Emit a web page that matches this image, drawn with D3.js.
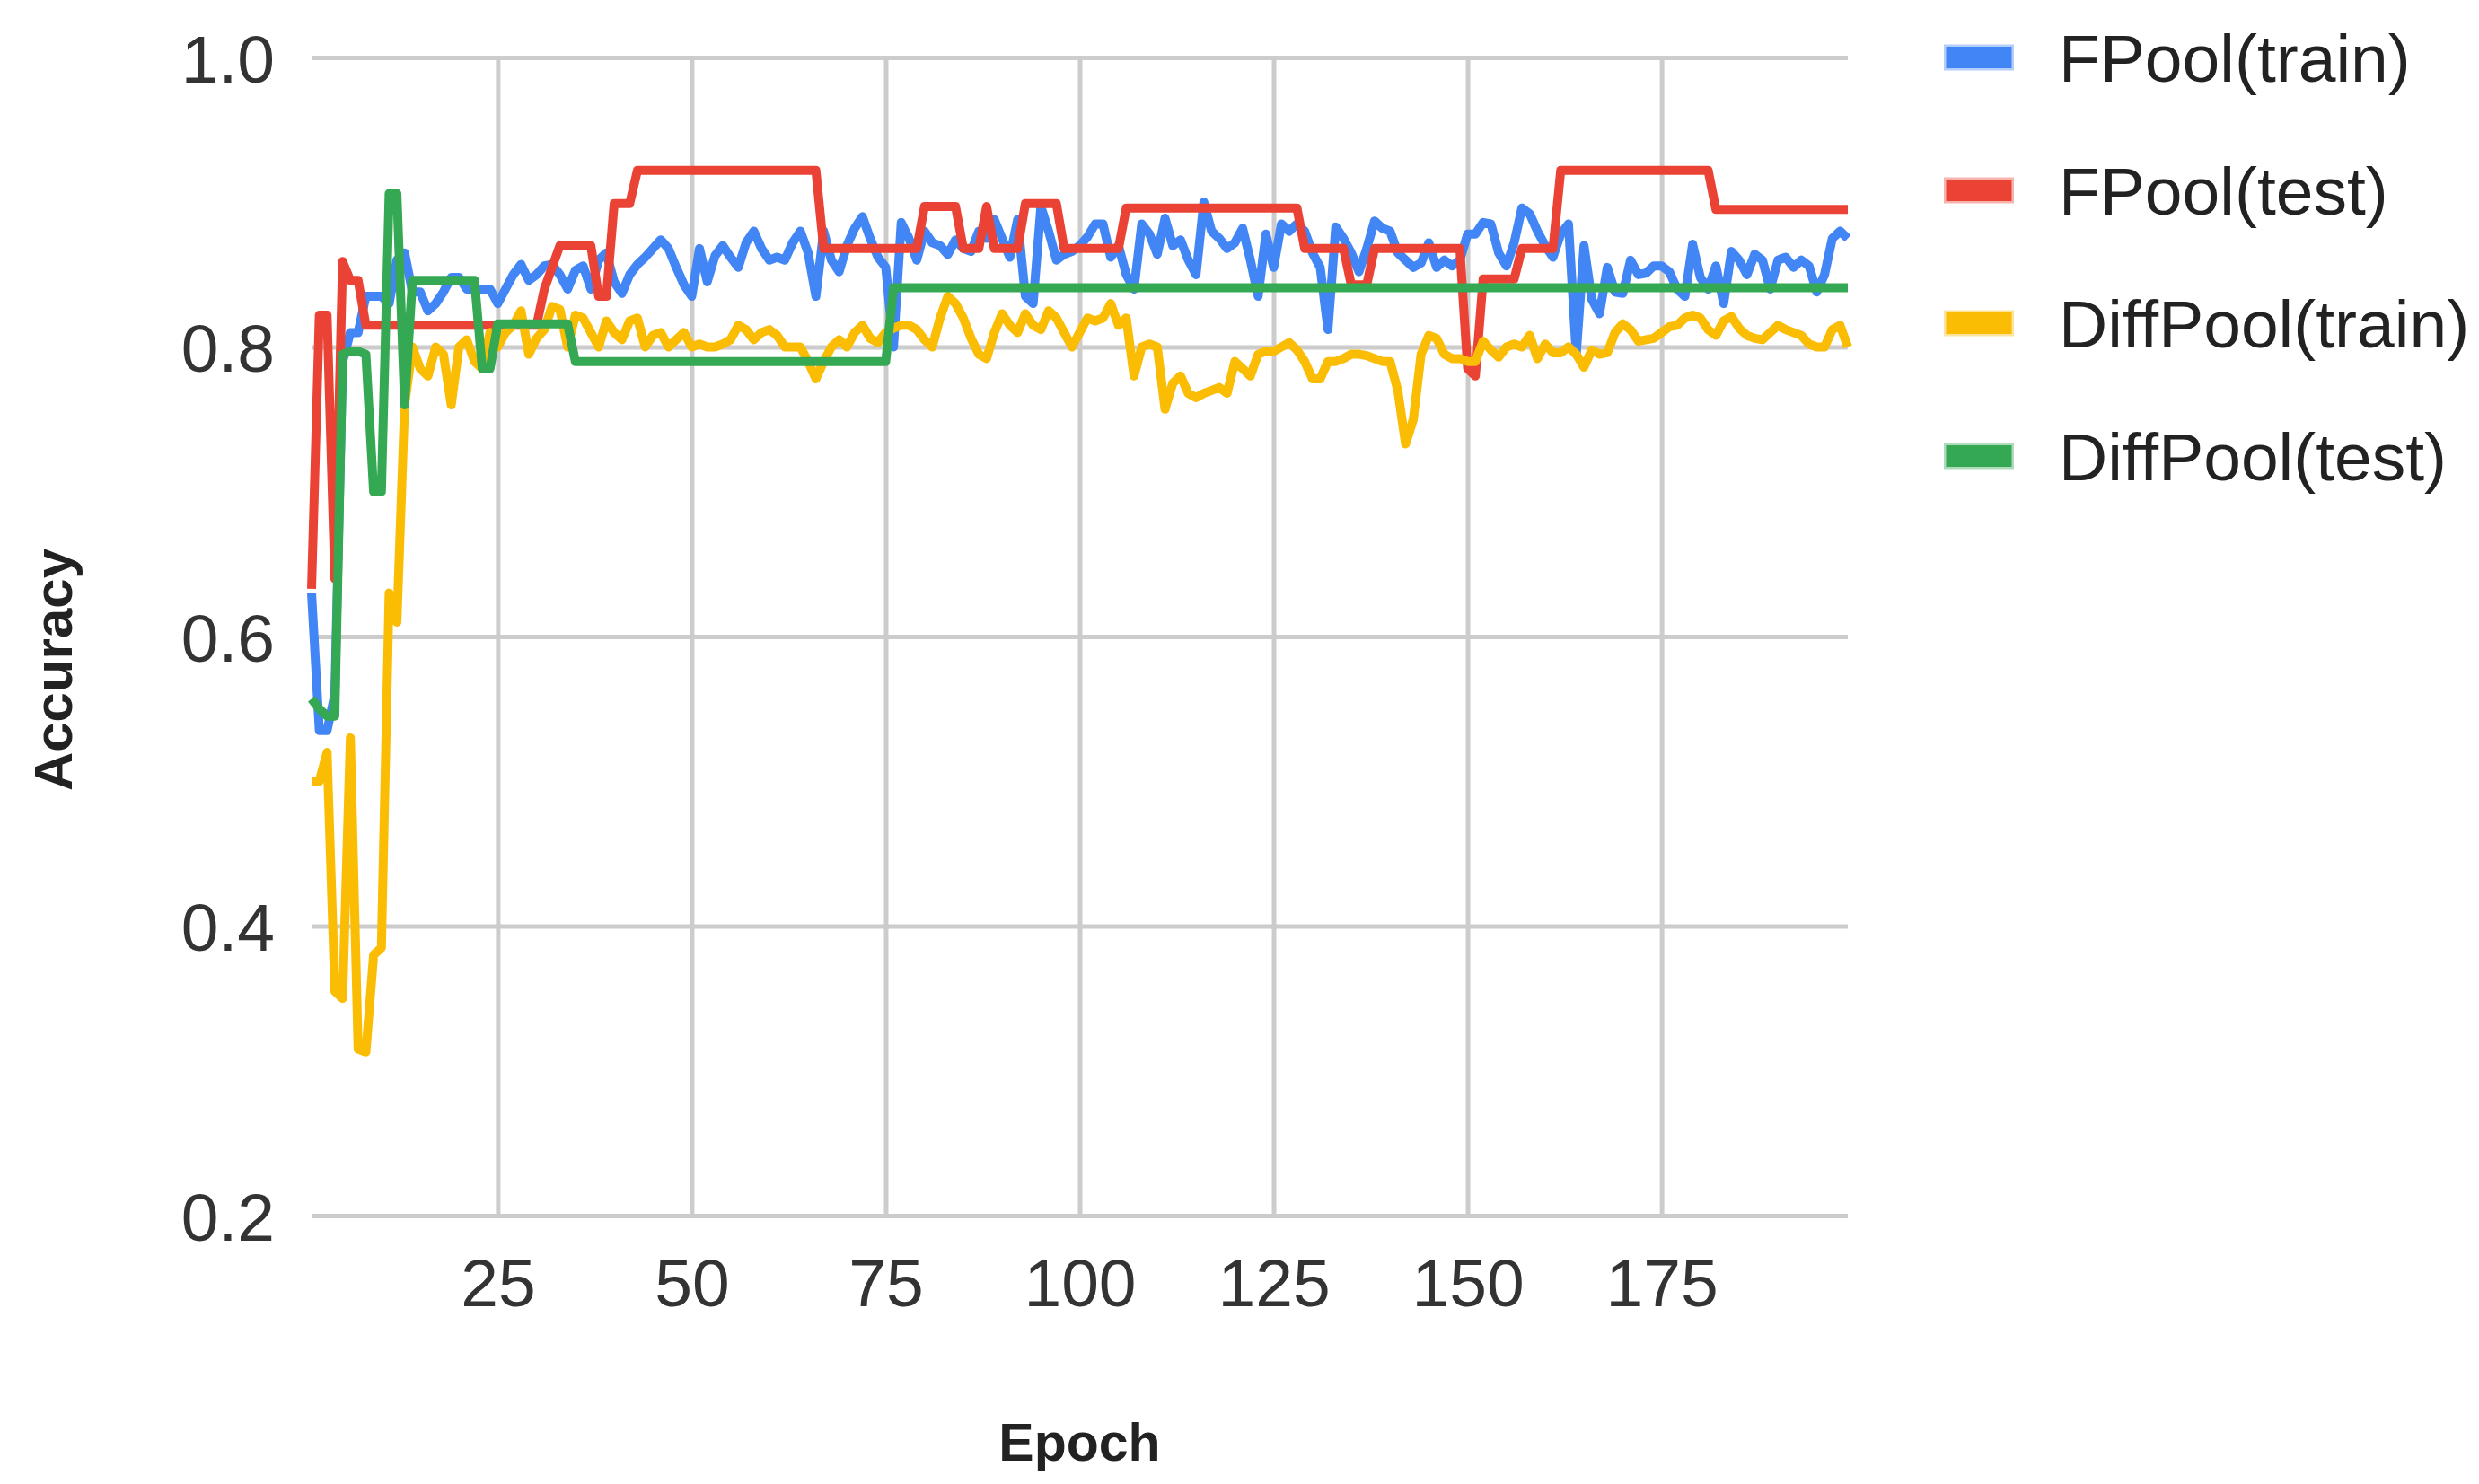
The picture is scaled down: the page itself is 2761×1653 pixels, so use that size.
<!DOCTYPE html>
<html>
<head>
<meta charset="utf-8">
<script src="https://cdn.jsdelivr.net/npm/d3@7"></script>
<style>
  body { margin: 0; background: #fff; }
  svg { display: block; font-family: "Liberation Sans", Arial, sans-serif; }
</style>
</head>
<body>
<svg width="2761" height="1653"></svg>
<script>
// series values, one per epoch (1..199)
const fpoolTrain = [
  0.63, 0.535, 0.535, 0.56, 0.79, 0.81, 0.81, 0.835, 0.835, 0.835,
  0.83, 0.86, 0.865, 0.838, 0.838, 0.825, 0.83, 0.838, 0.848, 0.848,
  0.84, 0.84, 0.84, 0.84, 0.83, 0.84, 0.85, 0.857, 0.846, 0.85,
  0.856, 0.857, 0.85, 0.84, 0.853, 0.856, 0.84, 0.86, 0.865, 0.845,
  0.837, 0.85, 0.857, 0.862, 0.868, 0.874, 0.868, 0.855, 0.843, 0.835,
  0.868, 0.845, 0.863, 0.87, 0.862, 0.855, 0.872, 0.88, 0.868, 0.86,
  0.862, 0.86, 0.872, 0.88, 0.865, 0.835, 0.88, 0.86, 0.852, 0.87,
  0.882, 0.89, 0.875, 0.862, 0.855, 0.80, 0.886, 0.875, 0.86, 0.88,
  0.872, 0.87, 0.864, 0.874, 0.868, 0.866, 0.88, 0.875, 0.888, 0.875,
  0.862, 0.888, 0.835, 0.83, 0.897, 0.88, 0.86, 0.864, 0.866, 0.87,
  0.876, 0.885, 0.885, 0.862, 0.87, 0.85, 0.84, 0.885, 0.878, 0.864,
  0.889, 0.87, 0.874, 0.86, 0.85, 0.90, 0.88, 0.875, 0.868, 0.872,
  0.882, 0.86, 0.835, 0.878, 0.855, 0.885, 0.88, 0.885, 0.88, 0.865,
  0.855, 0.812, 0.883, 0.875, 0.865, 0.852, 0.868, 0.887, 0.882, 0.88,
  0.865, 0.86, 0.855, 0.858, 0.872, 0.855, 0.86, 0.856, 0.86, 0.878,
  0.878, 0.886, 0.885, 0.865, 0.856, 0.872, 0.896, 0.892, 0.88, 0.87,
  0.862, 0.878, 0.885, 0.795, 0.87, 0.833, 0.823, 0.855, 0.838, 0.837,
  0.86, 0.85, 0.851, 0.856, 0.856, 0.852, 0.84, 0.835, 0.871, 0.848,
  0.84, 0.856, 0.83, 0.866, 0.86, 0.85, 0.864, 0.86, 0.84, 0.86,
  0.862, 0.855, 0.86, 0.856, 0.838, 0.85, 0.875, 0.88, 0.875
];

const fpoolTest = [
  0.633, 0.822, 0.822, 0.64, 0.859, 0.846, 0.846, 0.815, 0.815, 0.815,
  0.815, 0.815, 0.815, 0.815, 0.815, 0.815, 0.815, 0.815, 0.815, 0.815,
  0.815, 0.815, 0.815, 0.815, 0.815, 0.815, 0.815, 0.815, 0.815, 0.815,
  0.84, 0.855, 0.87, 0.87, 0.87, 0.87, 0.87, 0.835, 0.835, 0.899,
  0.899, 0.899, 0.922, 0.922, 0.922, 0.922, 0.922, 0.922, 0.922, 0.922,
  0.922, 0.922, 0.922, 0.922, 0.922, 0.922, 0.922, 0.922, 0.922, 0.922,
  0.922, 0.922, 0.922, 0.922, 0.922, 0.922, 0.868, 0.868, 0.868, 0.868,
  0.868, 0.868, 0.868, 0.868, 0.868, 0.868, 0.868, 0.868, 0.868, 0.897,
  0.897, 0.897, 0.897, 0.897, 0.868, 0.868, 0.868, 0.897, 0.868, 0.868,
  0.868, 0.868, 0.899, 0.899, 0.899, 0.899, 0.899, 0.868, 0.868, 0.868,
  0.868, 0.868, 0.868, 0.868, 0.868, 0.896, 0.896, 0.896, 0.896, 0.896,
  0.896, 0.896, 0.896, 0.896, 0.896, 0.896, 0.896, 0.896, 0.896, 0.896,
  0.896, 0.896, 0.896, 0.896, 0.896, 0.896, 0.896, 0.896, 0.868, 0.868,
  0.868, 0.868, 0.868, 0.868, 0.843, 0.843, 0.843, 0.868, 0.868, 0.868,
  0.868, 0.868, 0.868, 0.868, 0.868, 0.868, 0.868, 0.868, 0.868, 0.785,
  0.78, 0.847, 0.847, 0.847, 0.847, 0.847, 0.868, 0.868, 0.868, 0.868,
  0.868, 0.922, 0.922, 0.922, 0.922, 0.922, 0.922, 0.922, 0.922, 0.922,
  0.922, 0.922, 0.922, 0.922, 0.922, 0.922, 0.922, 0.922, 0.922, 0.922,
  0.922, 0.895, 0.895, 0.895, 0.895, 0.895, 0.895, 0.895, 0.895, 0.895,
  0.895, 0.895, 0.895, 0.895, 0.895, 0.895, 0.895, 0.895, 0.895
];

const diffpoolTrain = [
  0.50, 0.50, 0.52, 0.355, 0.35, 0.53, 0.315, 0.313, 0.38, 0.385,
  0.63, 0.61, 0.76, 0.80, 0.785, 0.78, 0.80, 0.795, 0.76, 0.80,
  0.805, 0.79, 0.785, 0.81, 0.80, 0.81, 0.815, 0.825, 0.795, 0.806,
  0.812, 0.828, 0.826, 0.80, 0.822, 0.82, 0.81, 0.80, 0.818, 0.81,
  0.805, 0.818, 0.82, 0.80, 0.808, 0.81, 0.80, 0.805, 0.81, 0.80,
  0.802, 0.80, 0.80, 0.802, 0.805, 0.815, 0.812, 0.805, 0.81, 0.812,
  0.808, 0.80, 0.80, 0.80, 0.79, 0.778, 0.79, 0.80, 0.805, 0.80,
  0.81, 0.815, 0.806, 0.803, 0.81, 0.813, 0.815, 0.815, 0.812, 0.805,
  0.80, 0.82, 0.835, 0.83, 0.82, 0.806, 0.795, 0.792, 0.81, 0.823,
  0.815, 0.81, 0.823, 0.815, 0.812, 0.825, 0.82, 0.81, 0.80, 0.81,
  0.82, 0.818, 0.82, 0.83, 0.815, 0.82, 0.78, 0.80, 0.802, 0.80,
  0.757, 0.775, 0.78, 0.768, 0.765, 0.768, 0.77, 0.772, 0.768, 0.79,
  0.785, 0.78, 0.795, 0.797, 0.797, 0.80, 0.803, 0.798, 0.79, 0.778,
  0.778, 0.79, 0.79, 0.792, 0.795, 0.795, 0.794, 0.792, 0.79, 0.79,
  0.77, 0.733, 0.75, 0.795, 0.808, 0.806, 0.795, 0.792, 0.792, 0.79,
  0.79, 0.804, 0.798, 0.793, 0.80, 0.802, 0.80, 0.808, 0.792, 0.802,
  0.796, 0.796, 0.80, 0.795, 0.786, 0.798, 0.795, 0.796, 0.81, 0.816,
  0.812, 0.804, 0.805, 0.806, 0.81, 0.814, 0.815, 0.82, 0.822, 0.82,
  0.812, 0.808, 0.818, 0.821, 0.813, 0.808, 0.806, 0.805, 0.81, 0.815,
  0.812, 0.81, 0.808, 0.802, 0.80, 0.80, 0.812, 0.815, 0.80
];

const diffpoolTest = [
  0.557, 0.55, 0.545, 0.545, 0.795, 0.797, 0.797, 0.795, 0.70, 0.70,
  0.906, 0.906, 0.76, 0.846, 0.846, 0.846, 0.846, 0.846, 0.846, 0.846,
  0.846, 0.846, 0.785, 0.785, 0.816, 0.816, 0.816, 0.816, 0.816, 0.816,
  0.816, 0.816, 0.816, 0.816, 0.79, 0.79, 0.79, 0.79, 0.79, 0.79,
  0.79, 0.79, 0.79, 0.79, 0.79, 0.79, 0.79, 0.79, 0.79, 0.79,
  0.79, 0.79, 0.79, 0.79, 0.79, 0.79, 0.79, 0.79, 0.79, 0.79,
  0.79, 0.79, 0.79, 0.79, 0.79, 0.79, 0.79, 0.79, 0.79, 0.79,
  0.79, 0.79, 0.79, 0.79, 0.79, 0.841, 0.841, 0.841, 0.841, 0.841,
  0.841, 0.841, 0.841, 0.841, 0.841, 0.841, 0.841, 0.841, 0.841, 0.841,
  0.841, 0.841, 0.841, 0.841, 0.841, 0.841, 0.841, 0.841, 0.841, 0.841,
  0.841, 0.841, 0.841, 0.841, 0.841, 0.841, 0.841, 0.841, 0.841, 0.841,
  0.841, 0.841, 0.841, 0.841, 0.841, 0.841, 0.841, 0.841, 0.841, 0.841,
  0.841, 0.841, 0.841, 0.841, 0.841, 0.841, 0.841, 0.841, 0.841, 0.841,
  0.841, 0.841, 0.841, 0.841, 0.841, 0.841, 0.841, 0.841, 0.841, 0.841,
  0.841, 0.841, 0.841, 0.841, 0.841, 0.841, 0.841, 0.841, 0.841, 0.841,
  0.841, 0.841, 0.841, 0.841, 0.841, 0.841, 0.841, 0.841, 0.841, 0.841,
  0.841, 0.841, 0.841, 0.841, 0.841, 0.841, 0.841, 0.841, 0.841, 0.841,
  0.841, 0.841, 0.841, 0.841, 0.841, 0.841, 0.841, 0.841, 0.841, 0.841,
  0.841, 0.841, 0.841, 0.841, 0.841, 0.841, 0.841, 0.841, 0.841, 0.841,
  0.841, 0.841, 0.841, 0.841, 0.841, 0.841, 0.841, 0.841, 0.841
];

const seriesNames = ['FPool(train)', 'FPool(test)', 'DiffPool(train)', 'DiffPool(test)'];
const seriesColors = ['#4285f4', '#ea4335', '#fbbc04', '#34a853'];
const xTicks = [25, 50, 75, 100, 125, 150, 175];
const yTicks = [0.2, 0.4, 0.6, 0.8, 1.0];

const allSeries = [fpoolTrain, fpoolTest, diffpoolTrain, diffpoolTest];

// plot area
const plotLeft = 347, plotRight = 2058, plotTop = 64, plotBottom = 1354;

const svg = d3.select('svg');

const x = d3.scaleLinear().domain([1, 199]).range([plotLeft, plotRight]);
const y = d3.scaleLinear().domain([0.2, 1.0]).range([plotBottom, plotTop]);

// vertical grid + x labels
const xAxis = svg.append('g')
    .attr('transform', `translate(0, ${plotBottom})`)
    .call(d3.axisBottom(x)
        .tickValues(xTicks)
        .tickSize(-(plotBottom - plotTop))
        .tickPadding(48)
        .tickFormat(d3.format('d')));

// horizontal grid + y labels
const yAxis = svg.append('g')
    .attr('transform', `translate(${plotLeft}, 0)`)
    .call(d3.axisLeft(y)
        .tickValues(yTicks)
        .tickSize(-(plotRight - plotLeft))
        .tickPadding(41)
        .tickFormat(d3.format('.1f')));

[xAxis, yAxis].forEach(ax => {
  ax.select('.domain').remove();
  ax.selectAll('.tick line').attr('stroke', '#cccccc').attr('stroke-width', 5);
  ax.selectAll('.tick text')
    .attr('fill', '#333')
    .attr('font-size', 75)
    .attr('font-family', '"Liberation Sans", Arial, sans-serif');
});
yAxis.selectAll('.tick text').attr('dy', '0.36em');
xAxis.selectAll('.tick text').attr('dy', '0.71em');

// the lines
const line = d3.line()
    .x((d, i) => x(i + 1))
    .y(d => y(d));

svg.append('g')
  .selectAll('path')
  .data(allSeries)
  .join('path')
    .attr('fill', 'none')
    .attr('stroke', (d, i) => seriesColors[i])
    .attr('stroke-width', 10)
    .attr('stroke-linejoin', 'round')
    .attr('d', line);

// legend
const legend = svg.append('g')
  .selectAll('g')
  .data(seriesNames)
  .join('g')
    .attr('transform', (d, i) => `translate(2165, ${64 + i * 148})`);

legend.append('rect')
    .attr('x', 2.5)
    .attr('y', -12)
    .attr('width', 73)
    .attr('height', 24)
    .attr('fill', (d, i) => seriesColors[i])
    .attr('stroke', (d, i) => seriesColors[i])
    .attr('stroke-opacity', 0.4)
    .attr('stroke-width', 5);

legend.append('text')
    .attr('x', 128)
    .attr('y', 27)
    .attr('font-size', 75)
    .attr('fill', '#222')
    .text(d => d);

// axis titles
svg.append('text')
    .attr('x', (plotLeft + plotRight) / 2)
    .attr('y', 1627)
    .attr('text-anchor', 'middle')
    .attr('font-size', 59)
    .attr('font-weight', 'bold')
    .attr('fill', '#222')
    .text('Epoch');

svg.append('text')
    .attr('transform', 'translate(80, 746) rotate(-90)')
    .attr('text-anchor', 'middle')
    .attr('font-size', 60)
    .attr('font-weight', 'bold')
    .attr('fill', '#222')
    .text('Accuracy');
</script>
</body>
</html>
